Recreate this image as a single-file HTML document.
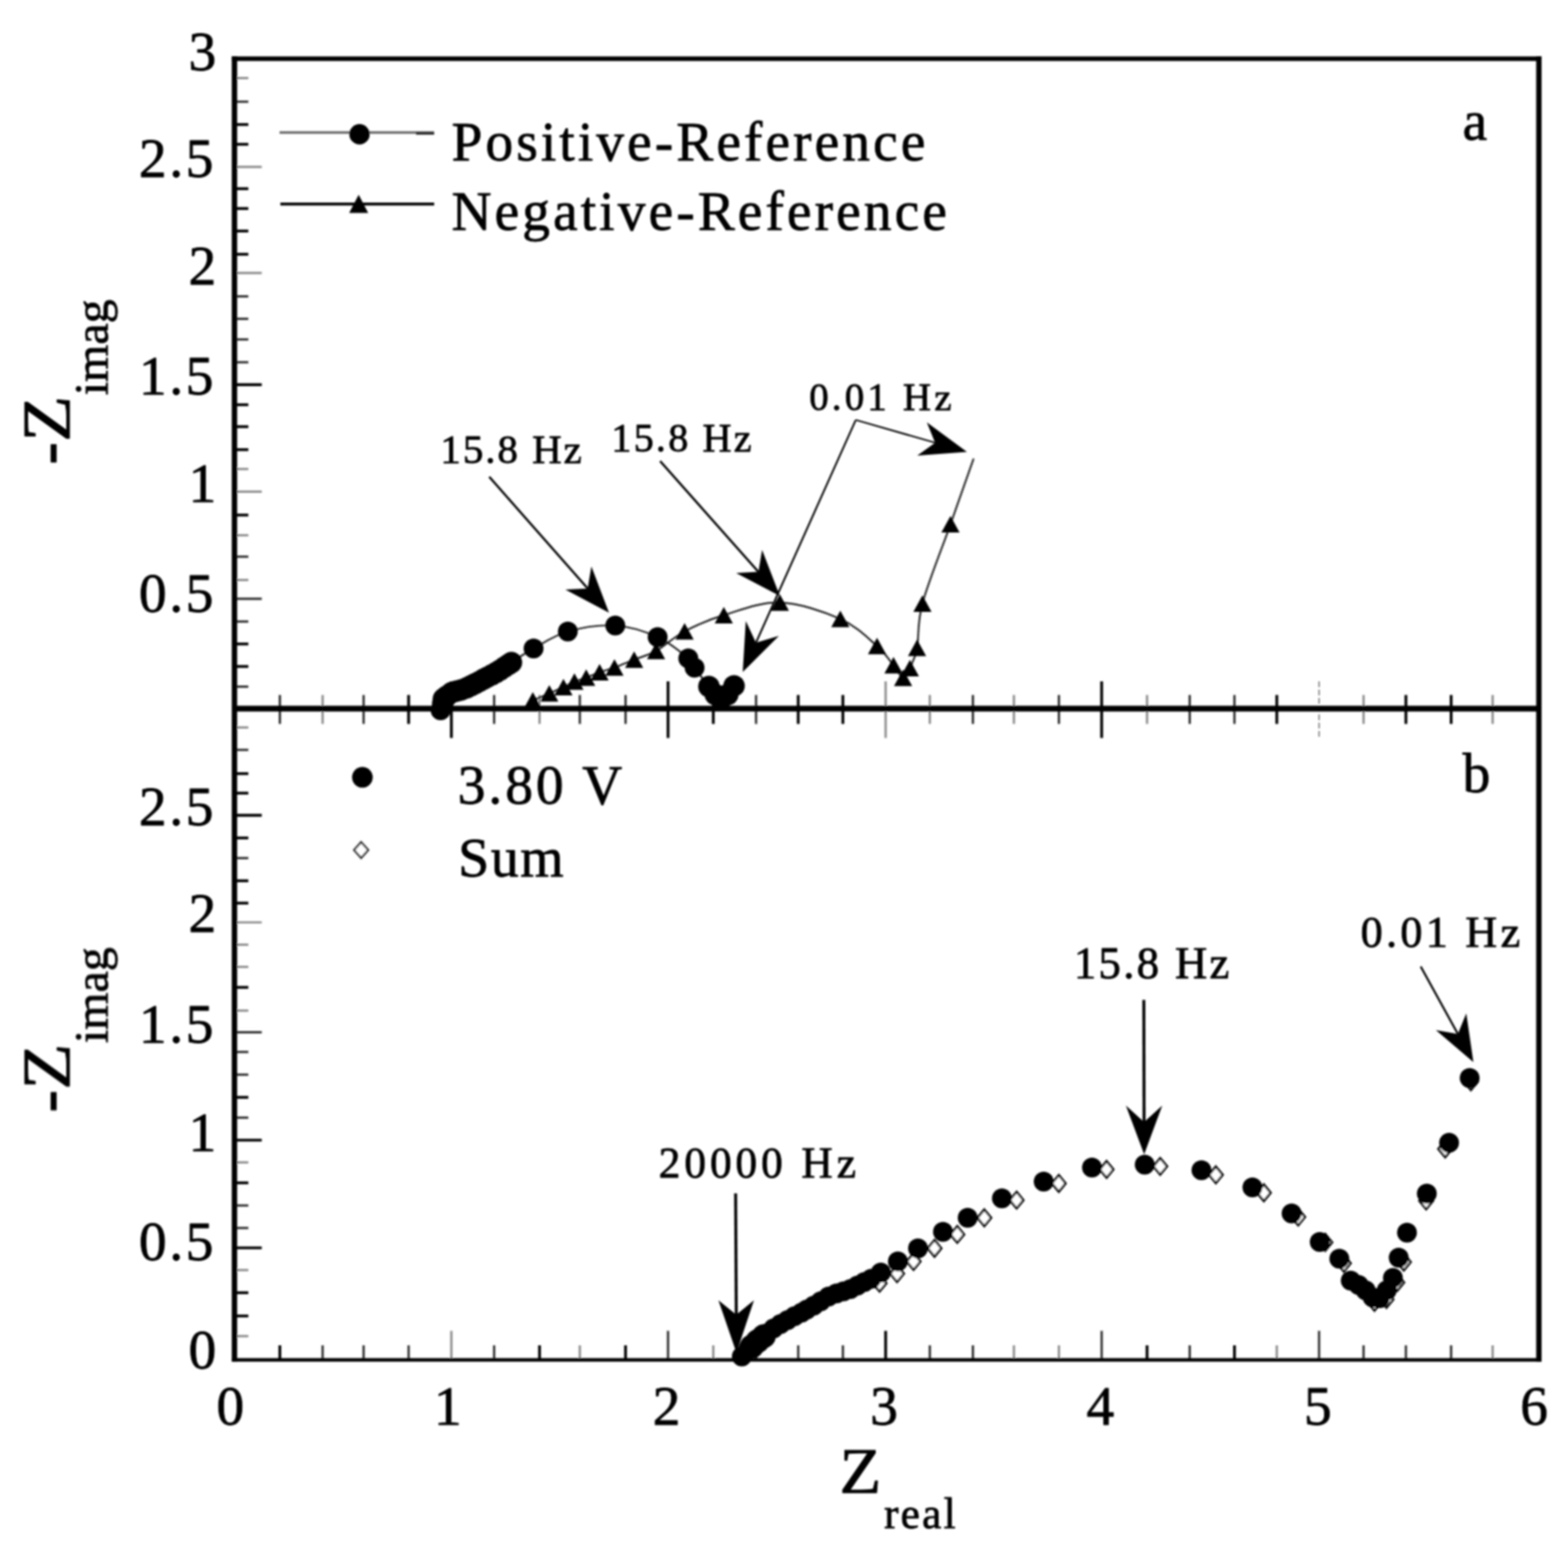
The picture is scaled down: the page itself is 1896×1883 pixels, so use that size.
<!DOCTYPE html>
<html lang="en">
<head>
<meta charset="utf-8">
<title>Impedance plots</title>
<style>
html,body{margin:0;padding:0;background:#fff;}
body{width:1896px;height:1883px;overflow:hidden;}
svg{display:block;}
text{font-family:"Liberation Serif","DejaVu Serif",serif;fill:#000;stroke:#000;stroke-width:0.9px;stroke-linejoin:round;}
.soft{filter:url(#soft);}
</style>
</head>
<body>
<svg width="1896" height="1883" viewBox="0 0 1896 1883">
<defs><filter id="soft" x="0" y="0" width="1896" height="1883" filterUnits="userSpaceOnUse"><feGaussianBlur stdDeviation="0.9"/></filter></defs>
<rect x="0" y="0" width="1896" height="1883" fill="#fff"/>
<g class="soft">
<g fill="none">
<line x1="283.5" y1="830.4" x2="300.3" y2="830.4" stroke="#2a2a2a" stroke-width="2.7"/>
<line x1="283.5" y1="1615.9" x2="300.3" y2="1615.9" stroke="#8a8a8a" stroke-width="2.7"/>
<line x1="283.5" y1="806.0" x2="300.3" y2="806.0" stroke="#000" stroke-width="3.4"/>
<line x1="283.5" y1="1591.5" x2="300.3" y2="1591.5" stroke="#000" stroke-width="3.4"/>
<line x1="283.5" y1="778.8" x2="300.3" y2="778.8" stroke="#000" stroke-width="3.4"/>
<line x1="283.5" y1="1563.4" x2="300.3" y2="1563.4" stroke="#000" stroke-width="3.4"/>
<line x1="283.5" y1="751.7" x2="300.3" y2="751.7" stroke="#2a2a2a" stroke-width="2.7"/>
<line x1="283.5" y1="1536.0" x2="300.3" y2="1536.0" stroke="#8a8a8a" stroke-width="2.7"/>
<line x1="283.5" y1="724.2" x2="316.5" y2="724.2" stroke="#2a2a2a" stroke-width="2.7"/>
<line x1="283.5" y1="1509.1" x2="316.5" y2="1509.1" stroke="#000" stroke-width="3.4"/>
<line x1="283.5" y1="701.4" x2="300.3" y2="701.4" stroke="#8a8a8a" stroke-width="2.7"/>
<line x1="283.5" y1="1485.1" x2="300.3" y2="1485.1" stroke="#2a2a2a" stroke-width="2.7"/>
<line x1="283.5" y1="673.2" x2="300.3" y2="673.2" stroke="#2a2a2a" stroke-width="2.7"/>
<line x1="283.5" y1="1457.9" x2="300.3" y2="1457.9" stroke="#2a2a2a" stroke-width="2.7"/>
<line x1="283.5" y1="647.3" x2="300.3" y2="647.3" stroke="#8a8a8a" stroke-width="2.7"/>
<line x1="283.5" y1="1430.5" x2="300.3" y2="1430.5" stroke="#000" stroke-width="3.4"/>
<line x1="283.5" y1="622.9" x2="300.3" y2="622.9" stroke="#000" stroke-width="3.4"/>
<line x1="283.5" y1="1405.8" x2="300.3" y2="1405.8" stroke="#8a8a8a" stroke-width="2.7"/>
<line x1="283.5" y1="594.6" x2="316.5" y2="594.6" stroke="#8a8a8a" stroke-width="2.7"/>
<line x1="283.5" y1="1378.9" x2="316.5" y2="1378.9" stroke="#000" stroke-width="3.4"/>
<line x1="283.5" y1="567.2" x2="300.3" y2="567.2" stroke="#8a8a8a" stroke-width="2.7"/>
<line x1="283.5" y1="1351.7" x2="300.3" y2="1351.7" stroke="#2a2a2a" stroke-width="2.7"/>
<line x1="283.5" y1="543.8" x2="300.3" y2="543.8" stroke="#000" stroke-width="3.4"/>
<line x1="283.5" y1="1327.1" x2="300.3" y2="1327.1" stroke="#000" stroke-width="3.4"/>
<line x1="283.5" y1="516.0" x2="300.3" y2="516.0" stroke="#000" stroke-width="3.4"/>
<line x1="283.5" y1="1299.7" x2="300.3" y2="1299.7" stroke="#2a2a2a" stroke-width="2.7"/>
<line x1="283.5" y1="489.5" x2="300.3" y2="489.5" stroke="#000" stroke-width="3.4"/>
<line x1="283.5" y1="1272.2" x2="300.3" y2="1272.2" stroke="#2a2a2a" stroke-width="2.7"/>
<line x1="283.5" y1="465.2" x2="316.5" y2="465.2" stroke="#000" stroke-width="3.4"/>
<line x1="283.5" y1="1248.3" x2="316.5" y2="1248.3" stroke="#2a2a2a" stroke-width="2.7"/>
<line x1="283.5" y1="438.1" x2="300.3" y2="438.1" stroke="#2a2a2a" stroke-width="2.7"/>
<line x1="283.5" y1="1222.2" x2="300.3" y2="1222.2" stroke="#8a8a8a" stroke-width="2.7"/>
<line x1="283.5" y1="410.5" x2="300.3" y2="410.5" stroke="#2a2a2a" stroke-width="2.7"/>
<line x1="283.5" y1="1194.1" x2="300.3" y2="1194.1" stroke="#000" stroke-width="3.4"/>
<line x1="283.5" y1="385.6" x2="300.3" y2="385.6" stroke="#2a2a2a" stroke-width="2.7"/>
<line x1="283.5" y1="1169.3" x2="300.3" y2="1169.3" stroke="#8a8a8a" stroke-width="2.7"/>
<line x1="283.5" y1="358.4" x2="300.3" y2="358.4" stroke="#2a2a2a" stroke-width="2.7"/>
<line x1="283.5" y1="1142.5" x2="300.3" y2="1142.5" stroke="#8a8a8a" stroke-width="2.7"/>
<line x1="283.5" y1="330.2" x2="316.5" y2="330.2" stroke="#8a8a8a" stroke-width="2.7"/>
<line x1="283.5" y1="1115.5" x2="316.5" y2="1115.5" stroke="#8a8a8a" stroke-width="2.7"/>
<line x1="283.5" y1="307.5" x2="300.3" y2="307.5" stroke="#000" stroke-width="3.4"/>
<line x1="283.5" y1="1092.2" x2="300.3" y2="1092.2" stroke="#000" stroke-width="3.4"/>
<line x1="283.5" y1="279.4" x2="300.3" y2="279.4" stroke="#000" stroke-width="3.4"/>
<line x1="283.5" y1="1065.2" x2="300.3" y2="1065.2" stroke="#000" stroke-width="3.4"/>
<line x1="283.5" y1="252.2" x2="300.3" y2="252.2" stroke="#000" stroke-width="3.4"/>
<line x1="283.5" y1="1037.8" x2="300.3" y2="1037.8" stroke="#2a2a2a" stroke-width="2.7"/>
<line x1="283.5" y1="228.2" x2="300.3" y2="228.2" stroke="#000" stroke-width="3.4"/>
<line x1="283.5" y1="1013.4" x2="300.3" y2="1013.4" stroke="#000" stroke-width="3.4"/>
<line x1="283.5" y1="201.8" x2="316.5" y2="201.8" stroke="#8a8a8a" stroke-width="2.7"/>
<line x1="283.5" y1="986.0" x2="316.5" y2="986.0" stroke="#000" stroke-width="3.4"/>
<line x1="283.5" y1="174.5" x2="300.3" y2="174.5" stroke="#000" stroke-width="3.4"/>
<line x1="283.5" y1="959.2" x2="300.3" y2="959.2" stroke="#000" stroke-width="3.4"/>
<line x1="283.5" y1="150.6" x2="300.3" y2="150.6" stroke="#000" stroke-width="3.4"/>
<line x1="283.5" y1="935.6" x2="300.3" y2="935.6" stroke="#000" stroke-width="3.4"/>
<line x1="283.5" y1="123.0" x2="300.3" y2="123.0" stroke="#2a2a2a" stroke-width="2.7"/>
<line x1="283.5" y1="906.9" x2="300.3" y2="906.9" stroke="#2a2a2a" stroke-width="2.7"/>
<line x1="283.5" y1="94.4" x2="300.3" y2="94.4" stroke="#8a8a8a" stroke-width="2.7"/>
<line x1="283.5" y1="879.8" x2="300.3" y2="879.8" stroke="#8a8a8a" stroke-width="2.7"/>
<line x1="338.4" y1="840.5" x2="338.4" y2="875.5" stroke="#2a2a2a" stroke-width="2.7"/>
<line x1="338.4" y1="1627.0" x2="338.4" y2="1644.6" stroke="#000" stroke-width="3.4"/>
<line x1="390.1" y1="840.5" x2="390.1" y2="875.5" stroke="#8a8a8a" stroke-width="2.7"/>
<line x1="390.1" y1="1627.0" x2="390.1" y2="1644.6" stroke="#2a2a2a" stroke-width="2.7"/>
<line x1="439.7" y1="840.5" x2="439.7" y2="875.5" stroke="#2a2a2a" stroke-width="2.7"/>
<line x1="439.7" y1="1627.0" x2="439.7" y2="1644.6" stroke="#2a2a2a" stroke-width="2.7"/>
<line x1="494.1" y1="840.5" x2="494.1" y2="875.5" stroke="#000" stroke-width="3.4"/>
<line x1="494.1" y1="1627.0" x2="494.1" y2="1644.6" stroke="#2a2a2a" stroke-width="2.7"/>
<line x1="545.8" y1="824.0" x2="545.8" y2="892.5" stroke="#000" stroke-width="3.4"/>
<line x1="545.8" y1="1609.5" x2="545.8" y2="1644.6" stroke="#8a8a8a" stroke-width="2.7"/>
<line x1="597.5" y1="840.5" x2="597.5" y2="875.5" stroke="#2a2a2a" stroke-width="2.7"/>
<line x1="597.5" y1="1627.0" x2="597.5" y2="1644.6" stroke="#2a2a2a" stroke-width="2.7"/>
<line x1="652.4" y1="840.5" x2="652.4" y2="875.5" stroke="#8a8a8a" stroke-width="2.7"/>
<line x1="652.4" y1="1627.0" x2="652.4" y2="1644.6" stroke="#000" stroke-width="3.4"/>
<line x1="701.1" y1="840.5" x2="701.1" y2="875.5" stroke="#2a2a2a" stroke-width="2.7"/>
<line x1="701.1" y1="1627.0" x2="701.1" y2="1644.6" stroke="#8a8a8a" stroke-width="2.7"/>
<line x1="756.4" y1="840.5" x2="756.4" y2="875.5" stroke="#2a2a2a" stroke-width="2.7"/>
<line x1="756.4" y1="1627.0" x2="756.4" y2="1644.6" stroke="#000" stroke-width="3.4"/>
<line x1="807.8" y1="824.0" x2="807.8" y2="892.5" stroke="#000" stroke-width="3.4"/>
<line x1="807.8" y1="1609.5" x2="807.8" y2="1644.6" stroke="#2a2a2a" stroke-width="2.7"/>
<line x1="862.5" y1="840.5" x2="862.5" y2="875.5" stroke="#000" stroke-width="3.4"/>
<line x1="862.5" y1="1627.0" x2="862.5" y2="1644.6" stroke="#8a8a8a" stroke-width="2.7"/>
<line x1="914.2" y1="840.5" x2="914.2" y2="875.5" stroke="#2a2a2a" stroke-width="2.7"/>
<line x1="914.2" y1="1627.0" x2="914.2" y2="1644.6" stroke="#2a2a2a" stroke-width="2.7"/>
<line x1="965.2" y1="840.5" x2="965.2" y2="875.5" stroke="#000" stroke-width="3.4"/>
<line x1="965.2" y1="1627.0" x2="965.2" y2="1644.6" stroke="#2a2a2a" stroke-width="2.7"/>
<line x1="1019.2" y1="840.5" x2="1019.2" y2="875.5" stroke="#000" stroke-width="3.4"/>
<line x1="1019.2" y1="1627.0" x2="1019.2" y2="1644.6" stroke="#2a2a2a" stroke-width="2.7"/>
<line x1="1070.9" y1="824.0" x2="1070.9" y2="892.5" stroke="#8a8a8a" stroke-width="2.7"/>
<line x1="1070.9" y1="1609.5" x2="1070.9" y2="1644.6" stroke="#000" stroke-width="3.4"/>
<line x1="1124.3" y1="840.5" x2="1124.3" y2="875.5" stroke="#8a8a8a" stroke-width="2.7"/>
<line x1="1124.3" y1="1627.0" x2="1124.3" y2="1644.6" stroke="#2a2a2a" stroke-width="2.7"/>
<line x1="1176.4" y1="840.5" x2="1176.4" y2="875.5" stroke="#2a2a2a" stroke-width="2.7"/>
<line x1="1176.4" y1="1627.0" x2="1176.4" y2="1644.6" stroke="#2a2a2a" stroke-width="2.7"/>
<line x1="1226.0" y1="840.5" x2="1226.0" y2="875.5" stroke="#8a8a8a" stroke-width="2.7"/>
<line x1="1226.0" y1="1627.0" x2="1226.0" y2="1644.6" stroke="#8a8a8a" stroke-width="2.7"/>
<line x1="1280.4" y1="840.5" x2="1280.4" y2="875.5" stroke="#2a2a2a" stroke-width="2.7"/>
<line x1="1280.4" y1="1627.0" x2="1280.4" y2="1644.6" stroke="#8a8a8a" stroke-width="2.7"/>
<line x1="1332.1" y1="824.0" x2="1332.1" y2="892.5" stroke="#000" stroke-width="3.4"/>
<line x1="1332.1" y1="1609.5" x2="1332.1" y2="1644.6" stroke="#2a2a2a" stroke-width="2.7"/>
<line x1="1387.0" y1="840.5" x2="1387.0" y2="875.5" stroke="#8a8a8a" stroke-width="2.7"/>
<line x1="1387.0" y1="1627.0" x2="1387.0" y2="1644.6" stroke="#000" stroke-width="3.4"/>
<line x1="1438.6" y1="840.5" x2="1438.6" y2="875.5" stroke="#2a2a2a" stroke-width="2.7"/>
<line x1="1438.6" y1="1627.0" x2="1438.6" y2="1644.6" stroke="#2a2a2a" stroke-width="2.7"/>
<line x1="1492.7" y1="840.5" x2="1492.7" y2="875.5" stroke="#2a2a2a" stroke-width="2.7"/>
<line x1="1492.7" y1="1627.0" x2="1492.7" y2="1644.6" stroke="#000" stroke-width="3.4"/>
<line x1="1543.9" y1="840.5" x2="1543.9" y2="875.5" stroke="#000" stroke-width="3.4"/>
<line x1="1543.9" y1="1627.0" x2="1543.9" y2="1644.6" stroke="#8a8a8a" stroke-width="2.7"/>
<line x1="1595.0" y1="824.0" x2="1595.0" y2="892.5" stroke="#777" stroke-width="1.6" stroke-dasharray="7 3"/>
<line x1="1595.0" y1="1609.5" x2="1595.0" y2="1644.6" stroke="#2a2a2a" stroke-width="2.7"/>
<line x1="1648.8" y1="840.5" x2="1648.8" y2="875.5" stroke="#8a8a8a" stroke-width="2.7"/>
<line x1="1648.8" y1="1627.0" x2="1648.8" y2="1644.6" stroke="#2a2a2a" stroke-width="2.7"/>
<line x1="1700.0" y1="840.5" x2="1700.0" y2="875.5" stroke="#000" stroke-width="3.4"/>
<line x1="1700.0" y1="1627.0" x2="1700.0" y2="1644.6" stroke="#2a2a2a" stroke-width="2.7"/>
<line x1="1754.7" y1="840.5" x2="1754.7" y2="875.5" stroke="#000" stroke-width="3.4"/>
<line x1="1754.7" y1="1627.0" x2="1754.7" y2="1644.6" stroke="#2a2a2a" stroke-width="2.7"/>
<line x1="1804.9" y1="840.5" x2="1804.9" y2="875.5" stroke="#8a8a8a" stroke-width="2.7"/>
<line x1="1804.9" y1="1627.0" x2="1804.9" y2="1644.6" stroke="#8a8a8a" stroke-width="2.7"/>
</g>
<g stroke="#000" fill="none" stroke-linecap="butt">
<line x1="283.5" y1="68.0" x2="283.5" y2="1646.6" stroke-width="6.5"/>
<line x1="1860.8" y1="68.0" x2="1860.8" y2="1646.8" stroke-width="6.5"/>
<line x1="280.5" y1="71.0" x2="1863.8" y2="71.0" stroke-width="5.5"/>
<line x1="283.5" y1="857.0" x2="1860.8" y2="857.0" stroke-width="7"/>
<line x1="280.5" y1="1644.6" x2="1863.8" y2="1644.6" stroke-width="4.2"/>
</g>
<text x="261.5" y="84.8" font-size="67" text-anchor="end">3</text>
<text x="168" y="214.3" font-size="67" text-anchor="start" textLength="90" lengthAdjust="spacing">2.5</text>
<text x="261.5" y="343.8" font-size="67" text-anchor="end">2</text>
<text x="168" y="476.6" font-size="67" text-anchor="start" textLength="90" lengthAdjust="spacing">1.5</text>
<text x="261.5" y="607.0" font-size="67" text-anchor="end">1</text>
<text x="168" y="739.5" font-size="67" text-anchor="start" textLength="90" lengthAdjust="spacing">0.5</text>
<text x="168" y="997.8" font-size="67" text-anchor="start" textLength="90" lengthAdjust="spacing">2.5</text>
<text x="261.5" y="1127.3" font-size="67" text-anchor="end">2</text>
<text x="168" y="1260.6" font-size="67" text-anchor="start" textLength="90" lengthAdjust="spacing">1.5</text>
<text x="261.5" y="1391.5" font-size="67" text-anchor="end">1</text>
<text x="168" y="1524.0" font-size="67" text-anchor="start" textLength="90" lengthAdjust="spacing">0.5</text>
<text x="261.5" y="1654.5" font-size="67" text-anchor="end">0</text>
<text x="278.6" y="1723.2" font-size="67" text-anchor="middle">0</text>
<text x="541.5" y="1723.2" font-size="67" text-anchor="middle">1</text>
<text x="806" y="1723.2" font-size="67" text-anchor="middle">2</text>
<text x="1069" y="1723.2" font-size="67" text-anchor="middle">3</text>
<text x="1330.5" y="1723.2" font-size="67" text-anchor="middle">4</text>
<text x="1593.4" y="1723.2" font-size="67" text-anchor="middle">5</text>
<text x="1855" y="1723.2" font-size="67" text-anchor="middle">6</text>
<g transform="translate(84,560) rotate(-90)"><text x="-2" y="0" font-size="82">-</text><text transform="translate(25.5,0) scale(1.12,1)" x="0" y="0" font-size="82">Z</text><text x="82" y="46" font-size="58">imag</text></g>
<g transform="translate(84,1343.5) rotate(-90)"><text x="-2" y="0" font-size="82">-</text><text transform="translate(25.5,0) scale(1.12,1)" x="0" y="0" font-size="82">Z</text><text x="82" y="46" font-size="58">imag</text></g>
<text transform="translate(1015,1804.8) scale(1.05,1)" x="0" y="0" font-size="79">Z</text>
<text x="1069" y="1848" font-size="52.5" text-anchor="start" textLength="86.5" lengthAdjust="spacing">real</text>
<text x="1768.5" y="169.3" font-size="67" text-anchor="start">a</text>
<text x="1768.5" y="957.5" font-size="67" text-anchor="start">b</text>
<line x1="338" y1="160.3" x2="525" y2="160.3" stroke="#666" stroke-width="3"/>
<line x1="503" y1="161.3" x2="525" y2="161.3" stroke="#222" stroke-width="3"/>
<circle cx="434.7" cy="162.4" r="12.3" fill="#000"/>
<line x1="339" y1="246.7" x2="525" y2="246.7" stroke="#000" stroke-width="3.6"/>
<polygon points="422.2,257.5 445.2,257.5 433.7,235.5" fill="#000"/>
<text x="546" y="193.5" font-size="67" text-anchor="start" textLength="573" lengthAdjust="spacing">Positive-Reference</text>
<text x="546" y="278.4" font-size="67" text-anchor="start" textLength="599" lengthAdjust="spacing">Negative-Reference</text>
<circle cx="438.2" cy="940.1" r="12.5" fill="#000"/>
<polygon points="436.7,1018.5 445.2,1028.0 436.7,1037.5 428.2,1028.0" fill="#fff" stroke="#333" stroke-width="2.6" stroke-linejoin="miter"/>
<text x="553.5" y="971.5" font-size="67" text-anchor="start" textLength="199" lengthAdjust="spacing">3.80 V</text>
<text x="554" y="1060.1" font-size="67.5" text-anchor="start" textLength="127.5" lengthAdjust="spacing">Sum</text>
<text x="532.5" y="560.3" font-size="49.5" text-anchor="start" textLength="171" lengthAdjust="spacing">15.8 Hz</text>
<text x="739.3" y="546.3" font-size="48.5" text-anchor="start" textLength="169.5" lengthAdjust="spacing">15.8 Hz</text>
<text x="978.5" y="496.2" font-size="47" text-anchor="start" textLength="172" lengthAdjust="spacing">0.01 Hz</text>
<line x1="591.6" y1="576.7" x2="710.6" y2="711.7" stroke="#000" stroke-width="2.6"/><polygon points="736.4,741.0 683.6,712.9 710.6,711.7 715.1,685.1" fill="#000"/>
<line x1="798.2" y1="557.7" x2="917.1" y2="691.6" stroke="#000" stroke-width="2.6"/><polygon points="943.0,720.8 890.1,692.9 917.1,691.6 921.5,665.0" fill="#000"/>
<line x1="1034.8" y1="507.9" x2="1130.7" y2="535.4" stroke="#000" stroke-width="2.0"/><polygon points="1169.2,546.4 1109.1,551.0 1130.7,535.4 1120.7,510.7" fill="#000"/>
<line x1="1034.8" y1="507.9" x2="914.1" y2="777.2" stroke="#000" stroke-width="2.2"/><polygon points="898.1,812.8 901.8,750.9 914.1,777.2 941.9,768.9" fill="#000"/>
<text x="796.5" y="1424" font-size="52.5" text-anchor="start" textLength="238.5" lengthAdjust="spacing">20000 Hz</text>
<text x="1298.5" y="1183.2" font-size="54" text-anchor="start" textLength="188" lengthAdjust="spacing">15.8 Hz</text>
<text x="1645.2" y="1144.6" font-size="53.5" text-anchor="start" textLength="193" lengthAdjust="spacing">0.01 Hz</text>
<line x1="889.5" y1="1443.3" x2="890.3" y2="1590.0" stroke="#000" stroke-width="3.6"/><polygon points="890.5,1636.0 868.7,1572.6 890.3,1590.0 911.7,1572.4" fill="#000"/>
<line x1="1383.1" y1="1209.2" x2="1383.4" y2="1357.0" stroke="#000" stroke-width="3.6"/><polygon points="1383.5,1396.0 1361.4,1337.0 1383.4,1357.0 1405.4,1337.0" fill="#000"/>
<line x1="1717.9" y1="1168.9" x2="1762.8" y2="1250.4" stroke="#000" stroke-width="2.4"/><polygon points="1781.6,1284.6 1736.2,1245.7 1762.8,1250.4 1773.0,1225.4" fill="#000"/>
<path d="M532.8,859.0 C547.1,849.4 599.7,813.7 618.4,801.2 C637.1,788.7 633.8,790.5 645.2,784.2 C656.6,778.0 670.1,768.3 686.6,763.7 C703.1,759.1 725.9,755.4 744.0,756.5 C762.1,757.6 780.5,763.9 795.2,770.5 C809.9,777.1 824.8,790.0 832.3,796.2 C839.8,802.4 835.8,801.8 839.9,807.5 C844.0,813.2 853.0,824.9 857.2,830.3 C861.4,835.7 862.5,837.5 865.0,840.0 C867.5,842.5 869.9,845.0 872.4,845.0 C874.9,845.0 877.5,842.6 880.0,840.0 C882.5,837.4 886.3,831.2 887.6,829.4" fill="none" stroke="#222" stroke-width="2.2"/>
<path d="M644.3,847.0 C647.6,845.6 658.0,841.2 664.2,838.5 C670.4,835.8 676.2,833.4 681.3,831.0 C686.4,828.6 690.0,826.2 694.6,824.3 C699.2,822.4 703.7,821.5 708.8,819.6 C713.9,817.7 719.3,815.1 725.0,813.0 C730.7,810.9 736.0,809.8 743.0,807.2 C750.0,804.7 758.4,801.0 766.8,797.7 C775.2,794.4 783.1,793.0 793.3,787.3 C803.5,781.6 814.1,770.8 827.8,763.6 C841.4,756.4 856.0,749.7 875.2,743.9 C894.4,738.1 919.5,727.9 943.0,728.7 C966.5,729.5 996.5,739.8 1016.1,748.6 C1035.7,757.4 1049.8,772.0 1060.5,781.3 C1071.2,790.6 1075.2,798.2 1080.4,804.6 C1085.7,811.0 1088.7,819.2 1092.0,819.8 C1095.3,820.4 1097.4,814.1 1100.2,808.1 C1103.0,802.1 1106.4,796.6 1108.9,783.6 C1111.4,770.6 1108.7,754.8 1115.4,729.9 C1122.1,705.0 1139.0,663.3 1149.3,634.1 C1159.6,604.9 1172.6,567.9 1177.3,554.6" fill="none" stroke="#222" stroke-width="2.2"/>
<circle cx="535.3" cy="851.0" r="13" fill="#000"/>
<circle cx="536.2" cy="845.1" r="13" fill="#000"/>
<circle cx="540.4" cy="841.7" r="13" fill="#000"/>
<circle cx="546.3" cy="837.5" r="13" fill="#000"/>
<circle cx="552.2" cy="835.8" r="13" fill="#000"/>
<circle cx="557.3" cy="834.5" r="13" fill="#000"/>
<circle cx="564.0" cy="832.0" r="13" fill="#000"/>
<circle cx="569.1" cy="829.5" r="13" fill="#000"/>
<circle cx="574.1" cy="827.0" r="13" fill="#000"/>
<circle cx="579.2" cy="824.4" r="13" fill="#000"/>
<circle cx="584.3" cy="821.6" r="13" fill="#000"/>
<circle cx="589.3" cy="818.9" r="13" fill="#000"/>
<circle cx="594.4" cy="816.4" r="13" fill="#000"/>
<circle cx="599.5" cy="813.5" r="13" fill="#000"/>
<circle cx="604.5" cy="810.5" r="13" fill="#000"/>
<circle cx="609.6" cy="807.1" r="13" fill="#000"/>
<circle cx="614.6" cy="803.8" r="13" fill="#000"/>
<circle cx="618.4" cy="801.2" r="13" fill="#000"/>
<circle cx="532.8" cy="859.0" r="12" fill="#000"/>
<circle cx="618.4" cy="801.2" r="12" fill="#000"/>
<circle cx="645.2" cy="784.2" r="12" fill="#000"/>
<circle cx="686.6" cy="763.7" r="12" fill="#000"/>
<circle cx="744.0" cy="756.5" r="12" fill="#000"/>
<circle cx="795.2" cy="770.5" r="12" fill="#000"/>
<circle cx="832.3" cy="796.2" r="12" fill="#000"/>
<circle cx="839.9" cy="807.5" r="12" fill="#000"/>
<circle cx="857.2" cy="830.3" r="13" fill="#000"/>
<circle cx="865.0" cy="840.0" r="13" fill="#000"/>
<circle cx="872.4" cy="845.0" r="13" fill="#000"/>
<circle cx="880.0" cy="840.0" r="13" fill="#000"/>
<circle cx="887.6" cy="829.4" r="13" fill="#000"/>
<polygon points="633.3,857.0 655.3,857.0 644.3,837.0" fill="#000"/>
<polygon points="653.2,848.5 675.2,848.5 664.2,828.5" fill="#000"/>
<polygon points="670.3,841.0 692.3,841.0 681.3,821.0" fill="#000"/>
<polygon points="683.6,834.3 705.6,834.3 694.6,814.3" fill="#000"/>
<polygon points="697.8,829.6 719.8,829.6 708.8,809.6" fill="#000"/>
<polygon points="714.0,823.0 736.0,823.0 725.0,803.0" fill="#000"/>
<polygon points="732.0,817.2 754.0,817.2 743.0,797.2" fill="#000"/>
<polygon points="755.8,807.7 777.8,807.7 766.8,787.7" fill="#000"/>
<polygon points="782.3,797.3 804.3,797.3 793.3,777.3" fill="#000"/>
<polygon points="816.8,773.6 838.8,773.6 827.8,753.6" fill="#000"/>
<polygon points="864.2,753.9 886.2,753.9 875.2,733.9" fill="#000"/>
<polygon points="932.0,738.7 954.0,738.7 943.0,718.7" fill="#000"/>
<polygon points="1005.1,758.6 1027.1,758.6 1016.1,738.6" fill="#000"/>
<polygon points="1049.5,791.3 1071.5,791.3 1060.5,771.3" fill="#000"/>
<polygon points="1069.4,814.6 1091.4,814.6 1080.4,794.6" fill="#000"/>
<polygon points="1081.0,829.8 1103.0,829.8 1092.0,809.8" fill="#000"/>
<polygon points="1089.2,818.1 1111.2,818.1 1100.2,798.1" fill="#000"/>
<polygon points="1097.9,793.6 1119.9,793.6 1108.9,773.6" fill="#000"/>
<polygon points="1104.4,739.9 1126.4,739.9 1115.4,719.9" fill="#000"/>
<polygon points="1138.3,644.1 1160.3,644.1 1149.3,624.1" fill="#000"/>
<polygon points="1063.6,1541.9 1071.8,1551.9 1063.6,1561.9 1055.3,1551.9" fill="#fff" stroke="#111" stroke-width="2.8" stroke-linejoin="miter"/>
<polygon points="1084.7,1530.3 1093.0,1540.3 1084.7,1550.3 1076.5,1540.3" fill="#fff" stroke="#111" stroke-width="2.8" stroke-linejoin="miter"/>
<polygon points="1104.7,1515.6 1113.0,1525.6 1104.7,1535.6 1096.5,1525.6" fill="#fff" stroke="#111" stroke-width="2.8" stroke-linejoin="miter"/>
<polygon points="1130.0,1499.7 1138.2,1509.7 1130.0,1519.7 1121.8,1509.7" fill="#fff" stroke="#111" stroke-width="2.8" stroke-linejoin="miter"/>
<polygon points="1157.5,1482.9 1165.8,1492.9 1157.5,1502.9 1149.2,1492.9" fill="#fff" stroke="#111" stroke-width="2.8" stroke-linejoin="miter"/>
<polygon points="1190.2,1462.8 1198.5,1472.8 1190.2,1482.8 1182.0,1472.8" fill="#fff" stroke="#111" stroke-width="2.8" stroke-linejoin="miter"/>
<polygon points="1229.3,1441.4 1237.5,1451.4 1229.3,1461.4 1221.0,1451.4" fill="#fff" stroke="#111" stroke-width="2.8" stroke-linejoin="miter"/>
<polygon points="1280.3,1421.2 1288.5,1431.2 1280.3,1441.2 1272.0,1431.2" fill="#fff" stroke="#111" stroke-width="2.8" stroke-linejoin="miter"/>
<polygon points="1338.1,1404.3 1346.3,1414.3 1338.1,1424.3 1329.8,1414.3" fill="#fff" stroke="#111" stroke-width="2.8" stroke-linejoin="miter"/>
<polygon points="1402.9,1400.6 1411.2,1410.6 1402.9,1420.6 1394.7,1410.6" fill="#fff" stroke="#111" stroke-width="2.8" stroke-linejoin="miter"/>
<polygon points="1470.2,1410.8 1478.5,1420.8 1470.2,1430.8 1462.0,1420.8" fill="#fff" stroke="#111" stroke-width="2.8" stroke-linejoin="miter"/>
<polygon points="1528.2,1432.5 1536.5,1442.5 1528.2,1452.5 1520.0,1442.5" fill="#fff" stroke="#111" stroke-width="2.8" stroke-linejoin="miter"/>
<polygon points="1569.8,1461.8 1578.0,1471.8 1569.8,1481.8 1561.5,1471.8" fill="#fff" stroke="#111" stroke-width="2.8" stroke-linejoin="miter"/>
<polygon points="1602.5,1492.5 1610.8,1502.5 1602.5,1512.5 1594.2,1502.5" fill="#fff" stroke="#111" stroke-width="2.8" stroke-linejoin="miter"/>
<polygon points="1625.0,1517.8 1633.2,1527.8 1625.0,1537.8 1616.8,1527.8" fill="#fff" stroke="#111" stroke-width="2.8" stroke-linejoin="miter"/>
<polygon points="1662.0,1565.0 1670.2,1575.0 1662.0,1585.0 1653.8,1575.0" fill="#fff" stroke="#111" stroke-width="2.8" stroke-linejoin="miter"/>
<polygon points="1676.5,1561.5 1684.8,1571.5 1676.5,1581.5 1668.2,1571.5" fill="#fff" stroke="#111" stroke-width="2.8" stroke-linejoin="miter"/>
<polygon points="1689.5,1541.0 1697.8,1551.0 1689.5,1561.0 1681.2,1551.0" fill="#fff" stroke="#111" stroke-width="2.8" stroke-linejoin="miter"/>
<polygon points="1697.5,1516.2 1705.8,1526.2 1697.5,1536.2 1689.2,1526.2" fill="#fff" stroke="#111" stroke-width="2.8" stroke-linejoin="miter"/>
<polygon points="1724.5,1442.3 1732.8,1452.3 1724.5,1462.3 1716.2,1452.3" fill="#fff" stroke="#111" stroke-width="2.8" stroke-linejoin="miter"/>
<polygon points="1747.5,1379.5 1755.8,1389.5 1747.5,1399.5 1739.2,1389.5" fill="#fff" stroke="#111" stroke-width="2.8" stroke-linejoin="miter"/>
<polygon points="1778.6,1298.2 1786.8,1308.2 1778.6,1318.2 1770.3,1308.2" fill="#fff" stroke="#111" stroke-width="2.8" stroke-linejoin="miter"/>
<circle cx="897.0" cy="1640.5" r="12" fill="#000"/>
<circle cx="904.8" cy="1631.8" r="12" fill="#000"/>
<circle cx="912.2" cy="1625.5" r="12" fill="#000"/>
<circle cx="919.6" cy="1618.6" r="12" fill="#000"/>
<circle cx="927.0" cy="1612.8" r="12" fill="#000"/>
<circle cx="935.4" cy="1606.5" r="12" fill="#000"/>
<circle cx="943.8" cy="1601.2" r="12" fill="#000"/>
<circle cx="952.3" cy="1596.5" r="12" fill="#000"/>
<circle cx="960.7" cy="1591.7" r="12" fill="#000"/>
<circle cx="969.2" cy="1587.5" r="12" fill="#000"/>
<circle cx="975.5" cy="1583.8" r="12" fill="#000"/>
<circle cx="983.9" cy="1579.1" r="12" fill="#000"/>
<circle cx="992.4" cy="1573.8" r="12" fill="#000"/>
<circle cx="1001.9" cy="1568.0" r="12" fill="#000"/>
<circle cx="1011.4" cy="1564.3" r="12" fill="#000"/>
<circle cx="1019.8" cy="1561.7" r="12" fill="#000"/>
<circle cx="1028.2" cy="1559.0" r="12" fill="#000"/>
<circle cx="1036.7" cy="1554.8" r="12" fill="#000"/>
<circle cx="1045.1" cy="1550.6" r="12" fill="#000"/>
<circle cx="1053.5" cy="1546.4" r="12" fill="#000"/>
<circle cx="1065.1" cy="1539.0" r="12" fill="#000"/>
<circle cx="1085.7" cy="1525.6" r="12" fill="#000"/>
<circle cx="1110.0" cy="1509.7" r="12" fill="#000"/>
<circle cx="1140.2" cy="1489.7" r="12" fill="#000"/>
<circle cx="1170.1" cy="1472.8" r="12" fill="#000"/>
<circle cx="1211.5" cy="1449.3" r="12" fill="#000"/>
<circle cx="1262.0" cy="1429.1" r="12" fill="#000"/>
<circle cx="1320.4" cy="1412.1" r="12" fill="#000"/>
<circle cx="1384.2" cy="1408.5" r="12" fill="#000"/>
<circle cx="1452.8" cy="1415.3" r="12" fill="#000"/>
<circle cx="1514.4" cy="1436.1" r="12" fill="#000"/>
<circle cx="1561.8" cy="1467.4" r="12" fill="#000"/>
<circle cx="1595.8" cy="1502.0" r="12" fill="#000"/>
<circle cx="1619.5" cy="1522.2" r="12" fill="#000"/>
<circle cx="1633.3" cy="1548.7" r="12" fill="#000"/>
<circle cx="1642.8" cy="1554.0" r="12" fill="#000"/>
<circle cx="1651.3" cy="1560.4" r="12" fill="#000"/>
<circle cx="1659.8" cy="1568.9" r="12" fill="#000"/>
<circle cx="1668.3" cy="1570.0" r="12" fill="#000"/>
<circle cx="1676.8" cy="1560.4" r="12" fill="#000"/>
<circle cx="1684.3" cy="1545.5" r="12" fill="#000"/>
<circle cx="1691.3" cy="1521.1" r="12" fill="#000"/>
<circle cx="1701.3" cy="1490.7" r="12" fill="#000"/>
<circle cx="1725.3" cy="1443.6" r="12" fill="#000"/>
<circle cx="1752.2" cy="1382.0" r="12" fill="#000"/>
<circle cx="1777.1" cy="1303.8" r="12" fill="#000"/>
<circle cx="909.0" cy="1628.5" r="14.5" fill="#000"/>
<circle cx="916.0" cy="1622.0" r="14.5" fill="#000"/>
<circle cx="923.5" cy="1616.0" r="14.5" fill="#000"/>
</g>
</svg>
</body>
</html>
